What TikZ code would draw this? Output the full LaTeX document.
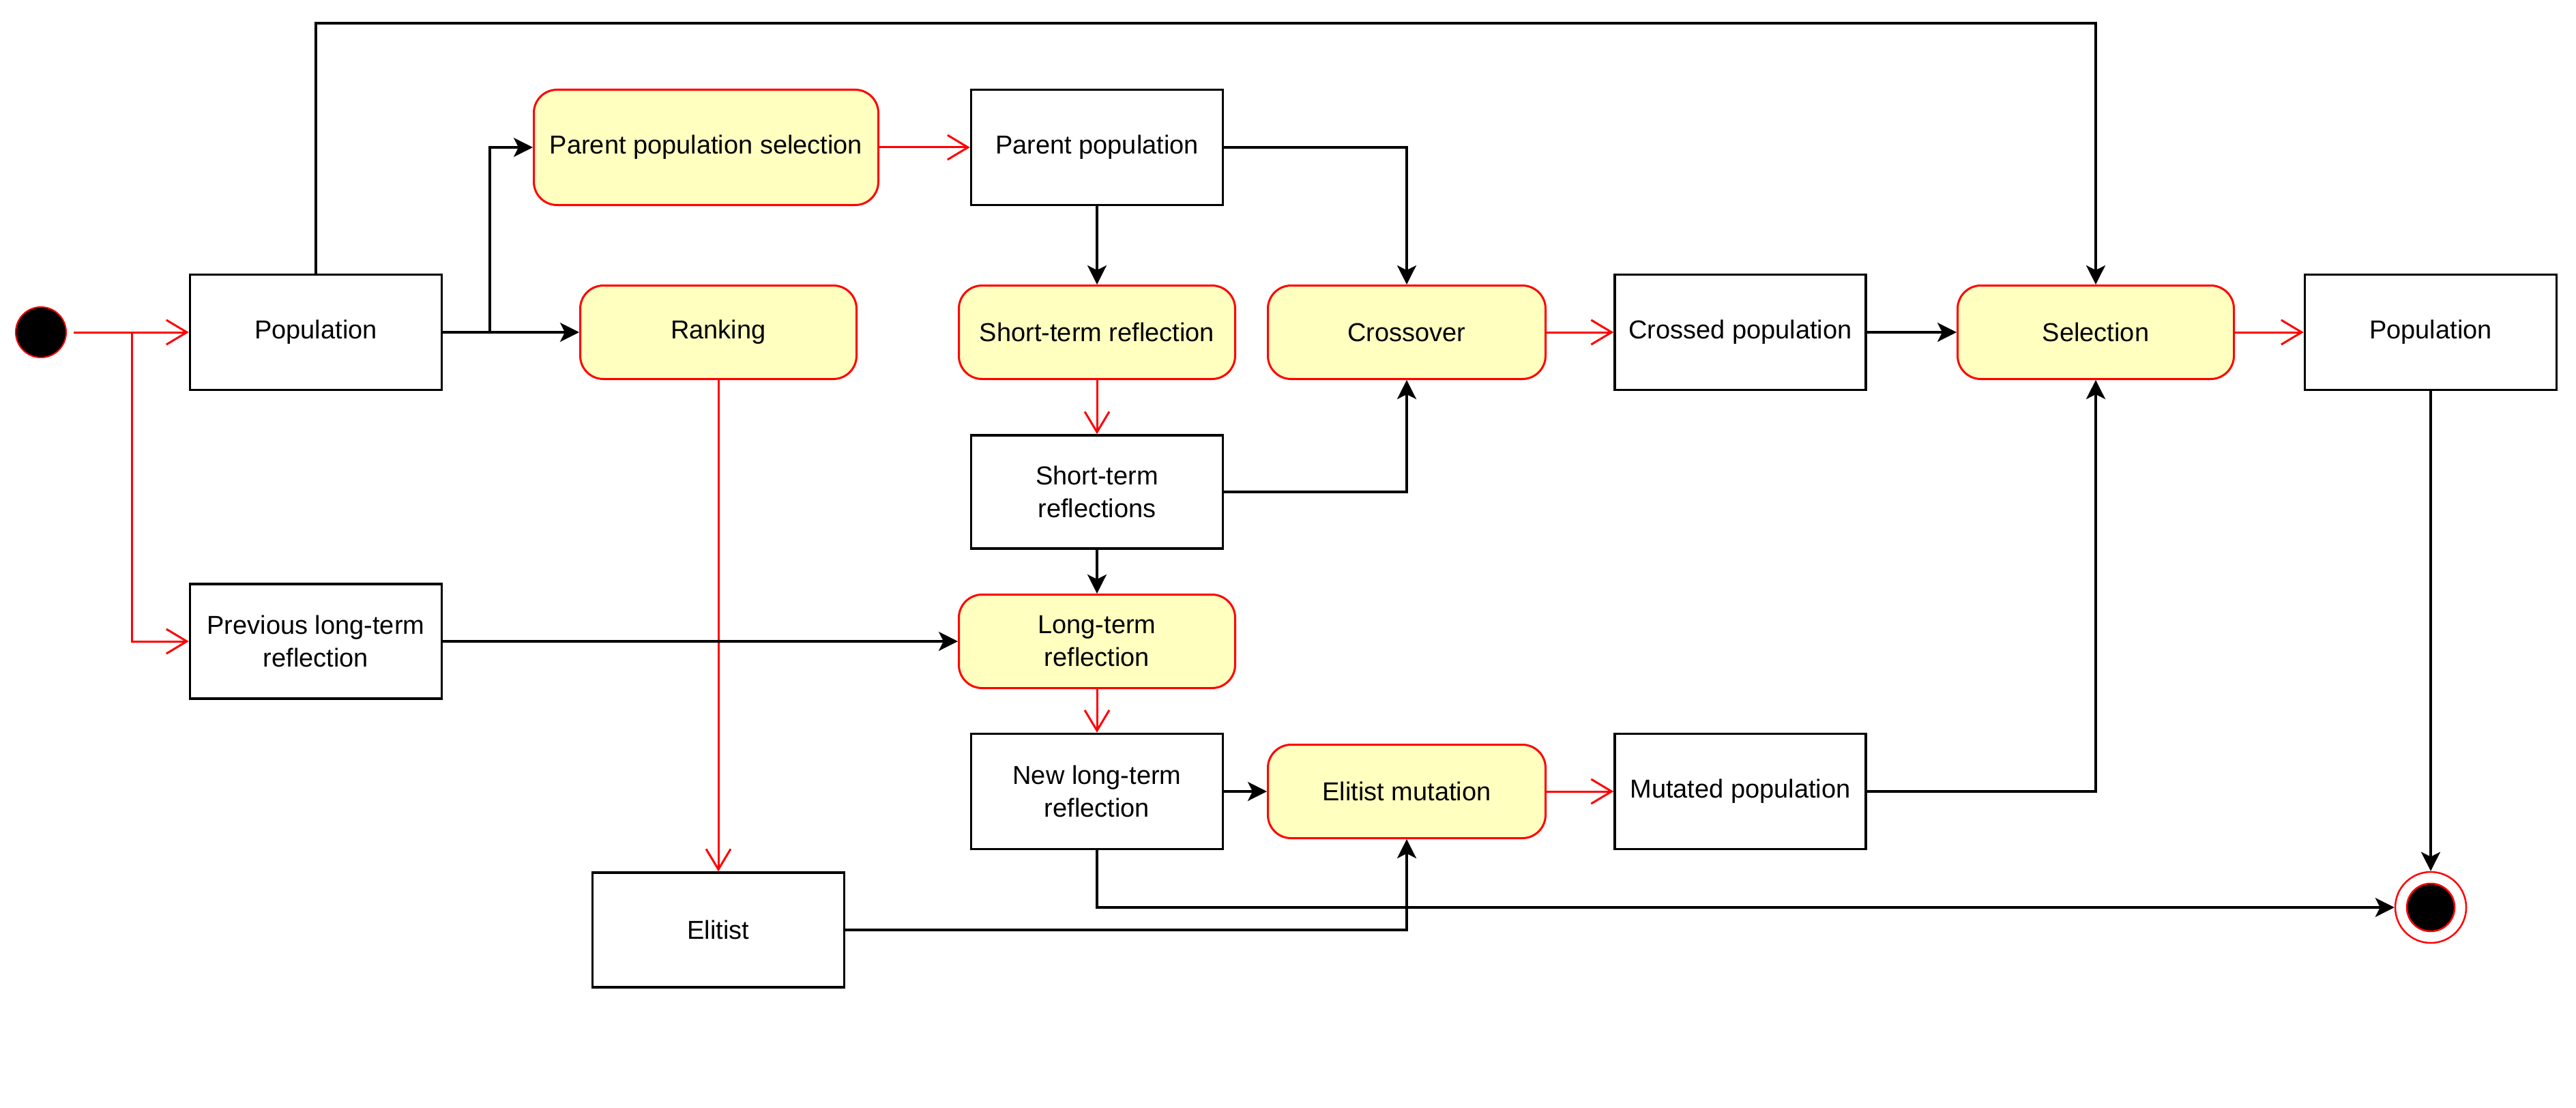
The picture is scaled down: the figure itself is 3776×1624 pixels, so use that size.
\documentclass[tikz,border=0pt]{standalone}
\usepackage{fontspec}
\setmainfont{Liberation Sans}
\usetikzlibrary{arrows.meta}

\definecolor{actfill}{HTML}{FFFFC0}
\definecolor{actred}{HTML}{FF0000}

\tikzset{
	objbox/.style={draw=black, line width=3.5pt, fill=white, align=center,
		minimum width=369pt, minimum height=169pt, inner sep=0pt,
		font=\fontsize{38}{48}\selectfont},
	actbox/.style={draw=actred, line width=3pt, fill=actfill, align=center,
		rounded corners=34pt, minimum width=405pt, minimum height=137pt,
		inner sep=0pt, font=\fontsize{38}{48}\selectfont},
	redflow/.style={draw=actred, line width=3pt,
		-{Straight Barb[length=30pt,width=36pt,line width=3pt]}},
	blackflow/.style={draw=black, line width=3.5pt,
		-{Stealth[length=28pt,width=28pt,inset=7pt]}},
}

\begin{document}
\begin{tikzpicture}[x=1pt, y=-1pt]
		\useasboundingbox (0,0) rectangle (3776,1624);
		% Start und Ende
		\node[circle, fill=black, draw=actred, line width=2pt,
			minimum size=74pt, inner sep=0pt] (start) at (60,487) {};
		\node[circle, draw=actred, line width=2.5pt, fill=white,
			minimum size=104pt, inner sep=0pt] (end) at (3563,1330) {};
		\fill[black, draw=actred, line width=2.5pt] (end) circle (35pt);
		% Objekte
		\node[objbox] (pop1) at (463,487) {Population};
		\node[objbox] (ppop) at (1608,216) {Parent population};
		\node[objbox, minimum height=166pt] (strs) at (1608,721) {Short-term\\reflections};
		\node[objbox, minimum height=168pt] (plr) at (463,940) {Previous long-term\\reflection};
		\node[objbox] (nlr) at (1608,1160) {New long-term\\reflection};
		\node[objbox, minimum height=168pt] (elit) at (1053,1363) {Elitist};
		\node[objbox, minimum width=368pt] (cpop) at (2551,487) {Crossed population};
		\node[objbox, minimum width=368pt] (mpop) at (2551,1160) {Mutated population};
		\node[objbox] (pop2) at (3563,487) {Population};
		% Aktionen
		\node[actbox, minimum width=505pt, minimum height=169pt] (pps) at (1035,216) {Parent population selection};
		\node[actbox] (rank) at (1053,487) {Ranking};
		\node[actbox] (str) at (1608,487) {Short-term reflection};
		\node[actbox, minimum width=407pt] (cross) at (2062,487) {Crossover};
		\node[actbox] (sel) at (3072,487) {Selection};
		\node[actbox] (lr) at (1608,940) {Long-term\\reflection};
		\node[actbox, minimum width=407pt] (emut) at (2062,1160) {Elitist mutation};
		% Verzweigungen
		\coordinate (split) at (193,487);
		\coordinate (fork) at (718,487);
		\coordinate (top) at (463,34);
		% Kontrollfluss
		\draw[redflow, shorten <=10pt] (start) -- (pop1.west);
		\draw[redflow] (split) |- (plr.west);
		\draw[redflow] (pps) -- (ppop);
		\draw[redflow] (str) -- (strs);
		\draw[redflow] (lr) -- (nlr);
		\draw[redflow] (rank) -- (elit);
		\draw[redflow] (cross) -- (cpop);
		\draw[redflow] (emut) -- (mpop);
		\draw[redflow] (sel) -- (pop2);
		% Objektfluss
		\draw[blackflow] (pop1) -- (rank);
		\draw[blackflow] (fork) |- (pps.west);
		\draw[blackflow] (pop1.north) -- (top) -| (sel.north);
		\draw[blackflow] (ppop) -- (str);
		\draw[blackflow] (ppop.east) -| (cross.north);
		\draw[blackflow] (strs.east) -| (cross.south);
		\draw[blackflow] (strs) -- (lr);
		\draw[blackflow] (plr) -- (lr);
		\draw[blackflow] (nlr) -- (emut);
		\draw[blackflow] (nlr.south) |- (end.west);
		\draw[blackflow] (elit.east) -| (emut.south);
		\draw[blackflow] (cpop) -- (sel);
		\draw[blackflow] (mpop.east) -| (sel.south);
		\draw[blackflow] (pop2) -- (end);
	\end{tikzpicture}
\end{document}
